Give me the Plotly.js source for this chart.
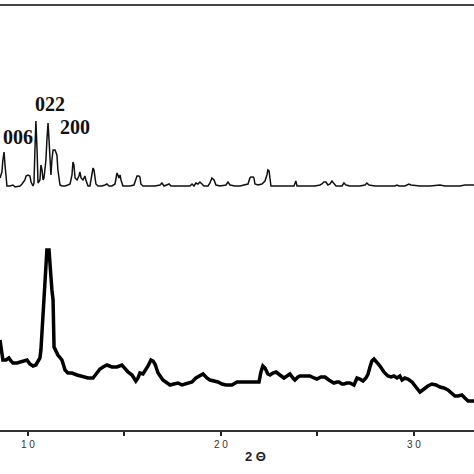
<!DOCTYPE html>
<html>
<head>
<meta charset="utf-8">
<script src="https://cdn.plot.ly/plotly-3.0.1.min.js"></script>
<style>html,body{margin:0;padding:0;background:#fff;}#chart{width:474px;height:474px;}</style>
</head>
<body>
<div id="chart"></div>
<script>
// Upper pattern (crystalline reference) : 2θ and intensity (a.u.)
const upperTheta = [
  8.55,8.65,8.70,8.76,8.81,8.86,8.91,9.07,9.22,9.33,
  9.48,9.59,9.69,9.84,9.90,10.00,10.10,10.16,10.26,10.31,
  10.36,10.41,10.47,10.52,10.62,10.67,10.73,10.78,10.83,10.88,
  10.93,10.98,11.04,11.09,11.14,11.19,11.24,11.30,11.40,11.45,
  11.50,11.55,11.61,11.66,11.76,11.92,12.07,12.18,12.28,12.33,
  12.38,12.44,12.54,12.64,12.69,12.75,12.85,12.90,12.95,13.00,
  13.11,13.21,13.32,13.37,13.42,13.47,13.52,13.63,13.83,13.99,
  14.09,14.20,14.35,14.51,14.56,14.61,14.66,14.71,14.77,14.82,
  14.92,15.08,15.28,15.49,15.59,15.65,15.75,15.80,15.85,15.96,
  16.32,16.58,16.84,16.94,17.05,17.20,17.31,17.41,17.87,18.39,
  18.50,18.60,18.70,18.81,18.91,19.01,19.12,19.33,19.43,19.53,
  19.64,19.74,19.95,20.26,20.36,20.47,20.72,20.98,21.24,21.40,
  21.50,21.55,21.66,21.71,21.76,21.92,22.12,22.28,22.38,22.43,
  22.49,22.54,22.59,22.80,23.31,23.78,23.88,23.94,24.35,24.87,
  25.13,25.23,25.33,25.44,25.54,25.65,25.75,25.85,25.96,26.27,
  26.37,26.48,26.68,27.20,27.46,27.56,27.67,27.98,28.50,29.01,
  29.12,29.22,29.53,29.74,29.84,30.31,30.83,31.35,31.60,32.38,
  32.64,33.11
];
const upperIntensity = [
  252,258,270,278,265,248,244,244,245,243,
  244,244,246,250,254,255,254,248,244,247,
  280,309,280,247,250,265,260,250,252,260,
  270,290,307,290,265,255,270,280,280,278,
  275,260,250,245,244,244,245,246,255,268,
  265,252,250,254,258,252,250,252,254,250,
  244,244,254,262,260,254,246,244,244,245,
  246,244,244,246,254,257,255,252,255,250,
  244,244,244,245,252,254,254,253,246,244,
  244,244,245,247,244,245,246,244,244,244,
  246,244,247,246,248,246,244,244,247,252,
  250,245,244,245,248,245,244,244,245,246,
  252,253,253,252,246,245,246,249,255,260,
  259,250,244,244,244,244,249,244,244,244,
  245,246,248,248,245,246,249,247,244,244,
  247,245,244,244,245,247,245,244,244,244,
  245,244,244,246,245,244,244,245,244,244,
  245,245
];

// Lower pattern (amorphous sample) : 2θ and intensity (a.u.)
const lowerTheta = [
  8.55,8.65,8.70,8.86,9.01,9.12,9.22,9.43,9.59,9.74,
  9.95,10.10,10.26,10.41,10.52,10.62,10.67,10.73,10.78,10.88,
  10.93,10.98,11.09,11.14,11.19,11.24,11.30,11.35,11.45,11.55,
  11.76,11.92,12.07,12.28,12.54,12.80,13.11,13.37,13.57,13.73,
  13.89,14.09,14.35,14.61,14.87,15.03,15.18,15.39,15.59,15.70,
  15.80,15.96,16.06,16.22,16.37,16.48,16.58,16.74,16.99,17.36,
  17.56,17.77,17.98,18.29,18.50,18.70,18.91,19.07,19.27,19.43,
  19.64,19.84,20.05,20.26,20.57,20.83,21.24,21.61,21.97,22.07,
  22.17,22.28,22.43,22.54,22.69,22.85,23.06,23.26,23.42,23.57,
  23.73,23.83,23.99,24.09,24.35,24.61,24.82,24.97,25.18,25.39,
  25.59,25.85,26.01,26.11,26.27,26.37,26.53,26.68,26.89,27.05,
  27.20,27.36,27.51,27.62,27.72,27.82,27.93,28.08,28.24,28.44,
  28.65,28.81,28.96,29.12,29.27,29.38,29.53,29.69,29.90,30.10,
  30.31,30.52,30.72,30.93,31.14,31.35,31.55,31.76,31.97,32.12,
  32.28,32.48,32.64,32.80,33.11
];
const lowerIntensity = [
  90,78,70,70,72,69,67,67,68,69,
  70,66,64,65,68,72,80,100,123,143,
  168,180,180,170,153,140,130,83,78,75,
  70,60,57,57,55,54,52,52,57,61,
  63,65,63,63,65,61,58,55,49,52,
  57,56,59,64,70,69,66,57,50,45,
  46,47,45,47,48,52,54,56,52,50,
  49,48,46,45,45,48,48,48,48,58,
  64,62,56,55,57,58,55,52,54,56,
  52,50,53,54,54,54,52,51,53,53,
  50,47,48,48,46,46,47,47,45,52,
  51,49,52,56,63,69,71,68,64,58,
  54,53,54,52,54,50,52,51,48,43,
  38,41,44,46,45,43,42,40,37,34,
  34,35,32,29,29
];

// Miller index labels
const peakLabels = ["006", "022", "200"];
const peakLabelTheta = [9.48, 11.16, 12.43];
const peakLabelIntensity = [293, 326, 303];

const tickVals = [10, 15, 20, 25, 30];
const tickText = ["1 0", "", "2 0", "", "3 0"];

const traces = [
  {x: upperTheta, y: upperIntensity, type: 'scatter', mode: 'lines',
   line: {color: '#111', width: 1.5}, hoverinfo: 'skip'},
  {x: lowerTheta, y: lowerIntensity, type: 'scatter', mode: 'lines',
   line: {color: '#000', width: 3.5}, hoverinfo: 'skip'}
];

const annotations = peakLabels.map((t, i) => ({
  x: peakLabelTheta[i], y: peakLabelIntensity[i], xref: 'x', yref: 'y',
  text: '<b>' + t + '</b>', showarrow: false,
  font: {family: 'Liberation Serif, Times New Roman, serif', size: 20, color: '#111'}
}));
annotations.push({
  x: 0.54, y: -0.085, xref: 'paper', yref: 'paper', text: '<b>2 Θ</b>',
  showarrow: false, font: {family: 'Liberation Sans, Arial, sans-serif', size: 13, color: '#222'}
});

const layout = {
  width: 474, height: 474,
  margin: {l: 0, r: 0, t: 5, b: 44},
  paper_bgcolor: '#fff', plot_bgcolor: '#fff',
  showlegend: false,
  xaxis: {
    range: [8.55, 33.11], showgrid: false, zeroline: false,
    showline: true, linecolor: '#333', linewidth: 1.5,
    tickmode: 'array', tickvals: tickVals, ticktext: tickText,
    ticks: 'outside', ticklen: 4, tickwidth: 2, tickcolor: '#222',
    tickfont: {family: 'Liberation Sans, Arial, sans-serif', size: 10, color: '#333'}
  },
  yaxis: {range: [0, 425], visible: false, showgrid: false, zeroline: false},
  shapes: [
    {type: 'line', xref: 'paper', yref: 'paper', x0: 0, x1: 1, y0: 1, y1: 1,
     line: {color: '#444', width: 2}}
  ],
  annotations: annotations
};

Plotly.newPlot('chart', traces, layout, {staticPlot: true, displayModeBar: false});
</script>
</body>
</html>
